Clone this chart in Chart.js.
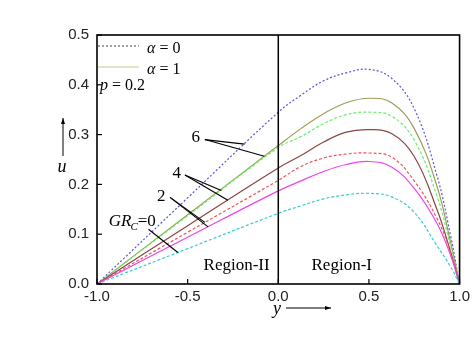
<!DOCTYPE html>
<html>
<head>
<meta charset="utf-8">
<script src="https://cdn.jsdelivr.net/npm/chart.js@4/dist/chart.umd.min.js"></script>
<style>
  html, body { margin: 0; padding: 0; background: #fff; }
  canvas { display: block; }
</style>
</head>
<body>
<canvas id="myChart" width="474" height="338"></canvas>
<script>
const ctx = document.getElementById('myChart');

// y positions across the channel (region II: -1..0, region I: 0..1)
const yPos = [-1, -0.5, 0, 0.125, 0.25, 0.375, 0.5, 0.625, 0.75, 0.875, 0.95, 1];

// velocity u, alpha = 0 (dashed) and alpha = 1 (solid)
const uA0Gr6 = [0, 0.173, 0.345, 0.379, 0.408, 0.424, 0.431, 0.413, 0.352, 0.218, 0.098, 0];
const uA1Gr6 = [0, 0.139, 0.278, 0.312, 0.342, 0.364, 0.373, 0.364, 0.312, 0.197, 0.084, 0];
const uA0Gr4 = [0, 0.137, 0.274, 0.296, 0.322, 0.340, 0.345, 0.337, 0.289, 0.177, 0.076, 0];
const uA1Gr4 = [0, 0.117, 0.233, 0.258, 0.285, 0.305, 0.310, 0.302, 0.256, 0.150, 0.065, 0];
const uA0Gr2 = [0, 0.104, 0.208, 0.236, 0.253, 0.261, 0.263, 0.255, 0.207, 0.132, 0.064, 0];
const uA1Gr2 = [0, 0.094, 0.187, 0.207, 0.226, 0.240, 0.246, 0.235, 0.192, 0.122, 0.058, 0];
const uGr0   = [0, 0.071, 0.142, 0.157, 0.171, 0.179, 0.182, 0.175, 0.144, 0.077, 0.035, 0];

const xTicks = [-1, -0.5, 0, 0.5, 1];
const yTicks = [0, 0.1, 0.2, 0.3, 0.4, 0.5];

const SERIF = '"Liberation Serif", "DejaVu Serif", serif';
const SANS = '"Liberation Sans", Arial, sans-serif';

function pts(vals) {
  return yPos.map((x, i) => ({ x: x, y: vals[i] }));
}

function line(label, vals, color, dash) {
  return {
    label: label,
    data: pts(vals),
    borderColor: color,
    borderWidth: 1.2,
    borderDash: dash,
    pointRadius: 0,
    fill: false,
    tension: 0.4
  };
}

// u on the straight region-II part, from the value at y = 0
function uAt(vals, x) {
  return vals[yPos.indexOf(0)] * (x + 1);
}

// curve labels with leader lines: [text, textX, textU, startX, startU, [[series, targetX], ...]]
const pointers = [
  ['6', -0.455, 0.294, -0.405, 0.290, [[uA0Gr6, -0.186], [uA1Gr6, -0.077]]],
  ['4', -0.56, 0.222, -0.515, 0.219, [[uA0Gr4, -0.314], [uA1Gr4, -0.278]]],
  ['2', -0.645, 0.176, -0.597, 0.174, [[uA0Gr2, -0.405], [uA1Gr2, -0.387]]]
];

function arrow(c, x1, y1, x2, y2) {
  c.beginPath();
  c.moveTo(x1, y1);
  c.lineTo(x2, y2);
  c.stroke();
  const a = Math.atan2(y2 - y1, x2 - x1);
  c.beginPath();
  c.moveTo(x2, y2);
  c.lineTo(x2 - 6 * Math.cos(a) + 2 * Math.sin(a), y2 - 6 * Math.sin(a) - 2 * Math.cos(a));
  c.lineTo(x2 - 6 * Math.cos(a) - 2 * Math.sin(a), y2 - 6 * Math.sin(a) + 2 * Math.cos(a));
  c.closePath();
  c.fill();
}

// draws runs of [text, italic] one after another
function runs(c, parts, x, y, size) {
  let cx = x;
  parts.forEach(p => {
    c.font = (p[1] ? 'italic ' : '') + size + 'px ' + SERIF;
    c.fillText(p[0], cx, y);
    cx += c.measureText(p[0]).width;
  });
}

const decorations = {
  id: 'decorations',
  afterDatasetsDraw(chart) {
    const c = chart.ctx;
    const a = chart.chartArea;
    const xs = chart.scales.x;
    const ys = chart.scales.y;
    c.save();
    c.strokeStyle = '#000';
    c.fillStyle = '#000';

    // frame
    c.lineWidth = 1.6;
    c.strokeRect(a.left, a.top, a.right - a.left, a.bottom - a.top);

    // inner ticks
    c.lineWidth = 1.2;
    yTicks.forEach(v => {
      const py = ys.getPixelForValue(v);
      c.beginPath(); c.moveTo(a.left, py); c.lineTo(a.left + 5, py); c.stroke();
    });
    xTicks.forEach(v => {
      const px = xs.getPixelForValue(v);
      c.beginPath(); c.moveTo(px, a.bottom); c.lineTo(px, a.bottom - 5); c.stroke();
    });

    // interface between the two regions
    c.lineWidth = 1.5;
    const x0 = xs.getPixelForValue(0);
    c.beginPath(); c.moveTo(x0, a.top); c.lineTo(x0, a.bottom); c.stroke();

    // legend
    c.lineWidth = 1.2;
    c.strokeStyle = '#666';
    c.setLineDash([2, 2]);
    c.beginPath(); c.moveTo(a.left + 1, 46); c.lineTo(a.left + 42, 46); c.stroke();
    c.setLineDash([]);
    c.strokeStyle = '#c5cc88';
    c.beginPath(); c.moveTo(a.left + 1, 67); c.lineTo(a.left + 42, 67); c.stroke();
    c.textBaseline = 'alphabetic';
    c.textAlign = 'left';
    runs(c, [['\u03b1', true], [' = 0', false]], a.left + 50, 53, 16);
    runs(c, [['\u03b1', true], [' = 1', false]], a.left + 50, 74, 16);
    runs(c, [['p', true], [' = 0.2', false]], a.left + 3, 90, 16);

    // region names
    c.font = '17px ' + SERIF;
    c.textAlign = 'center';
    c.fillText('Region-II', xs.getPixelForValue(-0.23), 270);
    c.fillText('Region-I', xs.getPixelForValue(0.35), 270);

    // curve labels
    c.strokeStyle = '#000';
    c.lineWidth = 1.1;
    pointers.forEach(p => {
      c.font = '17px ' + SERIF;
      c.textAlign = 'center';
      c.textBaseline = 'middle';
      c.fillText(p[0], xs.getPixelForValue(p[1]), ys.getPixelForValue(p[2]));
      const sx = xs.getPixelForValue(p[3]);
      const sy = ys.getPixelForValue(p[4]);
      p[5].forEach(t => {
        c.beginPath();
        c.moveTo(sx, sy);
        c.lineTo(xs.getPixelForValue(t[1]), ys.getPixelForValue(uAt(t[0], t[1])));
        c.stroke();
      });
    });
    c.textAlign = 'left';
    c.textBaseline = 'alphabetic';
    c.font = 'italic 17px ' + SERIF;
    const gx = xs.getPixelForValue(-0.935);
    const gy = 226;
    c.fillText('GR', gx, gy);
    let w = c.measureText('GR').width;
    c.font = 'italic 11px ' + SERIF;
    c.fillText('C', gx + w - 1, gy + 4);
    w += c.measureText('C').width - 1;
    c.font = '17px ' + SERIF;
    c.fillText('=0', gx + w, gy);
    c.beginPath();
    c.moveTo(xs.getPixelForValue(-0.716), ys.getPixelForValue(0.110));
    c.lineTo(xs.getPixelForValue(-0.554), ys.getPixelForValue(uAt(uGr0, -0.554)));
    c.stroke();

    // axis titles with arrows
    c.font = 'italic 18px ' + SERIF;
    c.textAlign = 'center';
    c.fillText('u', 62, 172);
    c.fillText('y', 277, 314);
    c.lineWidth = 1;
    arrow(c, 63, 156, 63, 118);
    arrow(c, 286, 308, 331, 308);
    c.restore();
  }
};

new Chart(ctx, {
  type: 'line',
  data: {
    datasets: [
      line('GRc=0', uGr0, '#33cccc', [3, 2]),
      line('alpha=1, GRc=2', uA1Gr2, '#ee44ee', []),
      line('alpha=0, GRc=2', uA0Gr2, '#ee5555', [3, 2]),
      line('alpha=1, GRc=4', uA1Gr4, '#8b4545', []),
      line('alpha=0, GRc=4', uA0Gr4, '#66ee66', [3, 2]),
      line('alpha=1, GRc=6', uA1Gr6, '#9c9c58', []),
      line('alpha=0, GRc=6', uA0Gr6, '#5555dd', [2, 2])
    ]
  },
  options: {
    responsive: false,
    animation: false,
    devicePixelRatio: 1,
    layout: { padding: { top: 35, right: 12, left: 0, bottom: 0 } },
    plugins: {
      legend: { display: false },
      tooltip: { enabled: false }
    },
    scales: {
      x: {
        type: 'linear',
        min: -1,
        max: 1,
        afterFit(scale) { scale.height = 54; },
        afterBuildTicks(scale) { scale.ticks = xTicks.map(v => ({ value: v })); },
        grid: { display: false, drawTicks: false },
        border: { display: false },
        ticks: {
          padding: 4,
          maxRotation: 0,
          autoSkip: false,
          color: '#222',
          font: { family: SANS, size: 15 },
          callback: v => v.toFixed(1)
        }
      },
      y: {
        min: 0,
        max: 0.5,
        afterFit(scale) { scale.width = 97; },
        afterBuildTicks(scale) { scale.ticks = yTicks.map(v => ({ value: v })); },
        grid: { display: false, drawTicks: false },
        border: { display: false },
        ticks: {
          padding: 8,
          autoSkip: false,
          color: '#222',
          font: { family: SANS, size: 15 },
          callback: v => v.toFixed(1)
        }
      }
    }
  },
  plugins: [decorations]
});
</script>
</body>
</html>
